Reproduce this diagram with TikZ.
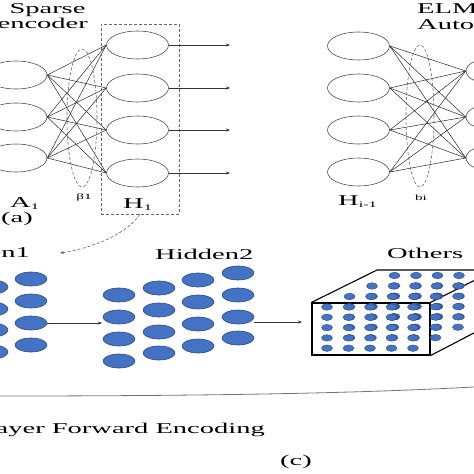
\documentclass[tikz,border=0pt]{standalone}
\usepackage{fontspec}
\setmainfont[FakeStretch=1.9]{Liberation Serif}
\usetikzlibrary{shapes.geometric,arrows.meta}
\definecolor{dotblue}{HTML}{4472C4}
\definecolor{dotedge}{HTML}{2B4A86}
\newcommand{\lblsub}[1]{\raisebox{-2pt}{\fontsize{8.5}{8.5}\selectfont #1}}
\begin{document}
\begin{tikzpicture}[x=1pt,y=-1pt,
  neuron/.style={draw=black!75, line width=0.55pt, ellipse, minimum width=62pt, minimum height=28pt, inner sep=0pt},
  fneuron/.style={draw=dotedge, fill=dotblue, line width=0.6pt, ellipse, minimum width=32pt, minimum height=14pt, inner sep=0pt},
  cdot/.style={draw=dotedge, fill=dotblue, line width=0.4pt, ellipse, minimum width=11pt, minimum height=6.5pt, inner sep=0pt},
  link/.style={draw=black!85, line width=0.5pt},
  arr/.style={draw=black!80, line width=0.5pt, -{Stealth[length=4pt,width=3pt]}},
  dashgray/.style={draw=black!60, dash pattern=on 3pt off 2pt, line width=0.6pt},
  lbl/.style={inner sep=0pt, font=\fontsize{15}{15}\selectfont},
  smalllbl/.style={inner sep=0pt, font=\fontsize{8}{8}\selectfont},
  cubeedge/.style={draw=black, line width=1.1pt},
]
\useasboundingbox (0,0) rectangle (474,474);
\clip (0,0) rectangle (474,474);

% ---------- (a) sparse autoencoder ----------
\node[neuron] (a1) at (16,75) {};
\node[neuron] (a2) at (16,117) {};
\node[neuron] (a3) at (16,158) {};
\node[neuron] (h1) at (137.5,45) {};
\node[neuron] (h2) at (137.5,88) {};
\node[neuron] (h3) at (137.5,130) {};
\node[neuron] (h4) at (137.5,173) {};
\foreach \i in {1,2,3}{\foreach \j in {1,...,4}{\draw[link] (a\i.east) -- (h\j.west);}}
\node[dashgray, ellipse, minimum width=30pt, minimum height=138pt, inner sep=0pt] (beta) at (82,118) {};
\node[dashgray, rectangle, minimum width=78pt, minimum height=190pt, inner sep=0pt] (h1box) at (140,119) {};
\coordinate (o1) at (230,45);
\coordinate (o2) at (230,88);
\coordinate (o3) at (230,130);
\coordinate (o4) at (230,173);
\foreach \j in {1,...,4}{\draw[arr] (h\j.east) -- (o\j);}

\node[lbl, anchor=base] (sparse) at (47.5,13.5) {Sparse};
\node[lbl, anchor=base east] (enc) at (88,28) {encoder};
\node[lbl, anchor=base west] (alab) at (10,207.5) {A\lblsub{1}};
\node[smalllbl, anchor=base] (blab) at (84,199) {β1};
\node[lbl, anchor=base west] (hlab) at (123,208) {H\lblsub{1}};
\node[lbl, anchor=base west] (capa) at (1,222.5) {(a)};

% ---------- ELM autoencoder ----------
\node[neuron] (p1) at (358.5,46) {};
\node[neuron] (p2) at (358.5,88) {};
\node[neuron] (p3) at (358.5,130) {};
\node[neuron] (p4) at (358.5,172) {};
\node[neuron] (q1) at (497,71) {};
\node[neuron] (q2) at (497,117) {};
\node[neuron] (q3) at (497,158) {};
\foreach \i in {1,...,4}{\foreach \j in {1,2,3}{\draw[link] (p\i.east) -- (q\j.west);}}
\node[dashgray, ellipse, minimum width=28pt, minimum height=142pt, inner sep=0pt] (bi) at (420,116) {};
\node[lbl, anchor=base west] (elm) at (417,13) {ELM};
\node[lbl, anchor=base west] (auto) at (417,29) {Auto};
\node[lbl, anchor=base west] (hilab) at (338,205) {H\lblsub{i-1}};
\node[smalllbl, anchor=base] (bilab) at (421,200) {bi};

% dashed link from H1 box to Hidden1
\coordinate (hid1tip) at (60,253);
\draw[dashgray, -{Stealth[length=4pt,width=3pt]}] (h1box.south) .. controls (128,232) and (98,247) .. (hid1tip);

% ---------- (c) layer forward encoding ----------
% Hidden1
\foreach \y [count=\k] in {287,309,330,352}{\node[fneuron] (m0\k) at (-8,\y) {};}
\foreach \y [count=\k] in {279,301,323,345}{\node[fneuron] (m1\k) at (31,\y) {};}
\node[lbl, anchor=base east] (hid1) at (30,257) {en1};
% Hidden2
\foreach \y [count=\k] in {295,317,339,361}{\node[fneuron] (n1\k) at (119,\y) {};}
\foreach \y [count=\k] in {288,310,332,353}{\node[fneuron] (n2\k) at (159,\y) {};}
\foreach \y [count=\k] in {280,302,324,346}{\node[fneuron] (n3\k) at (198,\y) {};}
\foreach \y [count=\k] in {273,295,317,338}{\node[fneuron] (n4\k) at (238,\y) {};}
\node[lbl, anchor=base west] (hid2) at (155,259) {Hidden2};
\coordinate (hid2in) at (102,323);
\draw[arr] (m13.east) -- (hid2in);
\coordinate (c2s) at (254,322);
\coordinate (c2e) at (302,322);
\draw[arr] (c2s) -- (c2e);

% cube
\node[cubeedge, rectangle, minimum width=118pt, minimum height=52pt, inner sep=0pt] (front) at (371,329) {};
\coordinate (tbl) at (377,270);
\coordinate (tbr) at (540,270);
\coordinate (tr) at (495,270);
\coordinate (br) at (495,322);
\draw[cubeedge] (front.north west) -- (tbl) -- (tbr);
\draw[cubeedge] (front.north east) -- (tr);
\draw[cubeedge] (front.south east) -- (br);
\foreach \L in {3,2,1,0}{
  \foreach \r in {0,...,4}{
    \foreach \c in {0,...,4}{
      \node[cdot] (d\L\r\c) at ({327+21.5*\c+22.5*\L},{307+10.3*\r-10.5*\L}) {};
    }
  }
}
\node[lbl, anchor=base west] (others) at (387,258) {Others};

% bottom line and captions
\coordinate (bl) at (0,396);
\coordinate (brr) at (474,387);
\draw[draw=black!55, line width=0.8pt] (bl) .. controls (250,396) and (380,392) .. (brr);
\node[lbl, anchor=base east] (fwd) at (265,433) {ayer Forward Encoding};
\node[lbl, anchor=base west] (capc) at (280,465) {(c)};
\end{tikzpicture}
\end{document}
